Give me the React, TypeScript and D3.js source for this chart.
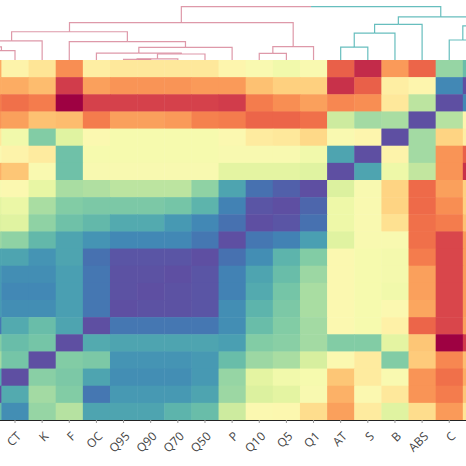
import { useEffect, useRef } from 'react';
import * as d3 from 'd3';

const W = 466;
const H = 466;

// variables in column order; the first two and the last one fall outside the crop
const vars = ['DO', 'pH', 'CT', 'K', 'F', 'OC', 'Q95', 'Q90', 'Q70', 'Q50', 'P', 'Q10', 'Q5', 'Q1', 'AT', 'S', 'B', 'ABS', 'C', 'EC', 'T'];
const gridCols = vars.slice(1, 20);
const gridRows = [...vars].reverse();

// correlation values, one line per heatmap row (top to bottom), columns = gridCols
const corr: number[][] = [
  [-0.4, -0.06, -0.16, -0.5, -0.1, -0.14, -0.14, -0.14, -0.14, -0.04, 0.02, 0.1, 0.02, -0.66, -0.86, -0.46, -0.64, 0.46, 0.6],
  [-0.4, -0.4, -0.34, -0.8, -0.44, -0.48, -0.48, -0.48, -0.46, -0.46, -0.32, -0.26, -0.26, -0.84, -0.66, -0.1, -0.04, 0.8, 1],
  [-0.56, -0.6, -0.56, -1, -0.78, -0.78, -0.78, -0.78, -0.78, -0.8, -0.56, -0.5, -0.44, -0.52, -0.5, -0.14, 0.34, 1, 0.8],
  [-0.48, -0.44, -0.32, -0.34, -0.56, -0.44, -0.44, -0.46, -0.54, -0.56, -0.64, -0.64, -0.6, 0.28, 0.42, 0.4, 1, 0.36, -0.04],
  [-0.14, 0.1, 0.52, 0.2, 0, 0.06, 0.06, 0.06, 0.06, 0, -0.12, -0.14, -0.22, 0.02, -0.04, 1, 0.42, -0.24, -0.1],
  [0, -0.06, -0.12, 0.58, 0.06, 0.06, 0.06, 0.06, 0.06, 0.04, 0.04, 0.04, 0.1, 0.7, 1, -0.06, 0.42, -0.48, -0.66],
  [-0.38, -0.3, 0.02, 0.58, 0.04, 0.04, 0.04, 0.04, 0.04, 0.18, 0.18, 0.18, 0.2, 1, 0.7, 0.12, 0.32, -0.48, -0.84],
  [0.04, 0, 0.16, 0.4, 0.38, 0.34, 0.34, 0.34, 0.48, 0.7, 0.88, 0.94, 1, 0.22, 0.04, -0.24, -0.62, -0.44, -0.26],
  [0.18, 0.14, 0.4, 0.52, 0.54, 0.54, 0.54, 0.56, 0.64, 0.82, 0.98, 1, 0.92, 0.12, 0.02, -0.24, -0.62, -0.5, -0.26],
  [0.22, 0.2, 0.48, 0.58, 0.62, 0.68, 0.68, 0.74, 0.8, 0.88, 1, 0.98, 0.88, 0.12, 0.02, -0.18, -0.6, -0.56, -0.32],
  [0.44, 0.48, 0.62, 0.7, 0.76, 0.8, 0.8, 0.8, 0.86, 1, 0.86, 0.82, 0.72, 0.2, 0.04, 0.04, -0.6, -0.76, -0.46],
  [0.7, 0.7, 0.76, 0.7, 0.88, 0.98, 0.98, 0.98, 1, 0.88, 0.78, 0.64, 0.52, 0, 0.06, 0.08, -0.56, -0.76, -0.46],
  [0.74, 0.78, 0.78, 0.72, 0.86, 0.99, 0.99, 1, 0.98, 0.82, 0.7, 0.6, 0.44, 0, 0.06, 0.08, -0.44, -0.76, -0.46],
  [0.74, 0.8, 0.8, 0.72, 0.86, 0.99, 1, 0.99, 0.98, 0.82, 0.68, 0.56, 0.4, 0, 0.06, 0.1, -0.44, -0.76, -0.46],
  [0.74, 0.78, 0.78, 0.72, 0.86, 1, 0.99, 0.99, 0.98, 0.78, 0.64, 0.54, 0.4, 0, 0.06, 0, -0.42, -0.76, -0.46],
  [0.86, 0.68, 0.6, 0.7, 1, 0.86, 0.86, 0.86, 0.86, 0.78, 0.6, 0.52, 0.42, 0, 0.06, -0.08, -0.64, -0.76, -0.44],
  [0.52, 0.6, 0.56, 1, 0.68, 0.7, 0.7, 0.7, 0.7, 0.72, 0.52, 0.5, 0.42, 0.52, 0.52, 0.18, -0.3, -1, -0.8],
  [0.42, 0.56, 1, 0.52, 0.54, 0.76, 0.76, 0.76, 0.74, 0.6, 0.44, 0.4, 0.24, 0, -0.12, 0.52, -0.28, -0.52, -0.34],
  [0.68, 1, 0.5, 0.54, 0.7, 0.78, 0.78, 0.78, 0.74, 0.46, 0.18, 0.1, 0.06, -0.3, -0.12, 0.02, -0.48, -0.6, -0.4],
  [1, 0.68, 0.42, 0.52, 0.86, 0.74, 0.74, 0.74, 0.7, 0.44, 0.22, 0.18, 0.04, -0.38, 0, -0.14, -0.48, -0.56, -0.3],
  [0.6, 0.78, 0.46, 0.36, 0.7, 0.7, 0.7, 0.64, 0.6, 0.28, 0, -0.02, -0.2, -0.44, -0.12, 0.2, -0.2, -0.46, -0.16],
];

// column dendrogram: merge order and heights
const merges = [
  { id: 'm1', a: 'pH', b: 'CT', h: 0.35 },
  { id: 'm2', a: 'DO', b: 'm1', h: 0.49 },
  { id: 'm3', a: 'm2', b: 'K', h: 0.72 },
  { id: 'm4', a: 'Q95', b: 'Q90', h: 0.02 },
  { id: 'm5', a: 'm4', b: 'Q70', h: 0.045 },
  { id: 'm6', a: 'm5', b: 'Q50', h: 0.225 },
  { id: 'm7', a: 'OC', b: 'm6', h: 0.26 },
  { id: 'm8', a: 'm7', b: 'P', h: 0.47 },
  { id: 'm9', a: 'F', b: 'm8', h: 0.69 },
  { id: 'm10', a: 'm3', b: 'm9', h: 1.06 },
  { id: 'm11', a: 'Q10', b: 'Q5', h: 0.25 },
  { id: 'm12', a: 'm11', b: 'Q1', h: 0.5 },
  { id: 'm13', a: 'm10', b: 'm12', h: 1.4 },
  { id: 'm14', a: 'AT', b: 'S', h: 0.48 },
  { id: 'm15', a: 'm14', b: 'B', h: 1.01 },
  { id: 'm16', a: 'm15', b: 'ABS', h: 1.34 },
  { id: 'm17', a: 'C', b: 'EC', h: 0.75 },
  { id: 'm18', a: 'm17', b: 'T', h: 1.28 },
  { id: 'm19', a: 'm16', b: 'm18', h: 1.62 },
  { id: 'm20', a: 'm13', b: 'm19', h: 2.0 },
];
const clusters = [
  { root: 'm13', color: '#d8879a' },
  { root: 'm19', color: '#4cb3b3' },
];

// layout
const cellW = 27.14;
const left0 = 1.43; // left edge of the CT column
const heatTop = 60;
const heatBottom = 420;

const x = d3.scaleBand().domain(vars).range([left0 - 2 * cellW, left0 + 19 * cellW]);
const y = d3.scaleBand().domain(gridRows).range([heatTop, heatBottom]);
const color = d3.scaleSequential(d3.interpolateSpectral).domain([-1, 1]);
const hy = d3.scaleLinear().domain([0, 2]).range([heatTop, 6.7]);

const byId = new Map(merges.map((m) => [m.id, m]));

function nodePos(id: string): { x: number; h: number } {
  const m = byId.get(id);
  if (!m) return { x: (x(id) ?? 0) + x.bandwidth() / 2, h: 0 };
  const a = nodePos(m.a);
  const b = nodePos(m.b);
  return { x: (a.x + b.x) / 2, h: m.h };
}

function within(id: string, root: string): boolean {
  if (id === root) return true;
  const m = byId.get(root);
  if (!m) return false;
  return within(id, m.a) || within(id, m.b);
}

function edgeColor(id: string) {
  const c = clusters.find((k) => within(id, k.root));
  return c ? c.color : '#999';
}

export default function App() {
  const axisRef = useRef<SVGGElement>(null);

  useEffect(() => {
    document.body.style.margin = '0';
    const g = d3.select(axisRef.current);
    g.call(d3.axisBottom(x).tickSize(3).tickSizeOuter(0) as any);
    g.select('.domain').attr('stroke', '#222').attr('stroke-width', 1.2);
    g.selectAll('.tick line').attr('stroke', '#999');
    g.selectAll('.tick text')
      .attr('font-family', '"Open Sans", sans-serif')
      .attr('font-size', 12)
      .attr('fill', '#444')
      .attr('text-anchor', 'end')
      .attr('x', 0)
      .attr('y', 0)
      .attr('dy', 0)
      .attr('transform', 'translate(7,17) rotate(-45)');
  }, []);

  const edges: { d: string; stroke: string }[] = [];
  merges.forEach((m) => {
    const p = nodePos(m.id);
    [m.a, m.b].forEach((c) => {
      const n = nodePos(c);
      edges.push({
        d: `M${p.x},${hy(p.h)}H${n.x}V${hy(n.h)}`,
        stroke: edgeColor(c),
      });
    });
  });

  return (
    <svg width={W} height={H} style={{ display: 'block', background: '#fff' }}>
      <g>
        {corr.map((row, ri) =>
          row.map((v, ci) => (
            <rect
              key={`${ri}-${ci}`}
              x={x(gridCols[ci])}
              y={y(gridRows[ri])}
              width={x.bandwidth() + 0.5}
              height={y.bandwidth() + 0.5}
              fill={color(v)}
            />
          ))
        )}
      </g>
      <g fill="none" strokeWidth={1.2} strokeOpacity={0.85}>
        {edges.map((e, i) => (
          <path key={i} d={e.d} stroke={e.stroke} />
        ))}
      </g>
      <g ref={axisRef} transform={`translate(0,${heatBottom})`} />
    </svg>
  );
}
